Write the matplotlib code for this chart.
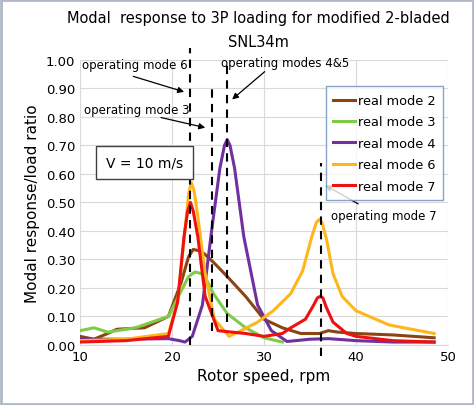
import matplotlib.pyplot as plt

rpm_m2 = [10, 11.5, 13, 14, 17, 19.6, 21, 21.8, 22.3, 23, 23.5, 24.5, 26, 28, 30, 32, 34, 36, 37, 38, 40, 44, 48.5]
mode2 = [0.03, 0.02, 0.04, 0.055, 0.06, 0.10, 0.22, 0.31, 0.335, 0.33, 0.32, 0.29, 0.24, 0.17, 0.09, 0.06, 0.04, 0.04, 0.05, 0.045, 0.04, 0.035, 0.025]
rpm_m3 = [10, 11.5, 13, 16, 19.6, 21, 21.8, 22.5, 23.2, 23.8, 24.5, 26, 28, 30, 32]
mode3 = [0.05, 0.06, 0.045, 0.06, 0.10, 0.19, 0.24, 0.256, 0.25, 0.225, 0.18, 0.11, 0.06, 0.025, 0.01]
rpm_m4 = [10, 15, 19.6, 20.8, 21.4, 22.2, 23.3, 24.3, 25.2, 25.7, 26, 26.3, 26.8, 27.8, 29.3, 30.8, 32.5, 35, 37, 40, 44, 48.5]
mode4 = [0.02, 0.02, 0.022, 0.015, 0.01, 0.03, 0.14, 0.40, 0.62, 0.70, 0.72, 0.70, 0.62, 0.38, 0.14, 0.05, 0.012, 0.02, 0.022, 0.015, 0.01, 0.01]
rpm_m6 = [10, 15, 19.6, 20.6, 21.4, 21.8, 22.1, 22.4, 22.8, 23.6, 24.6, 26.2, 27.5, 29.3, 31, 32.9, 34.2, 35.2, 35.7, 36, 36.3, 36.8, 37.5, 38.5, 40, 43.6, 48.5]
mode6 = [0.015, 0.02, 0.04, 0.15, 0.40, 0.53, 0.57, 0.54, 0.45, 0.25, 0.09, 0.03, 0.05, 0.08, 0.12, 0.18, 0.26, 0.38, 0.43, 0.44, 0.43, 0.37, 0.25, 0.17, 0.12, 0.07, 0.04]
rpm_m7 = [10, 15, 19.6, 20.6, 21.3, 21.7, 22, 22.3, 22.8, 23.6, 25, 26.5, 28, 30, 32, 32.9, 34.5, 35.4, 35.8, 36.1, 36.4, 36.8, 37.5, 39, 40, 44, 48.5]
mode7 = [0.01, 0.015, 0.03, 0.15, 0.38, 0.47, 0.50, 0.47, 0.38, 0.17, 0.05, 0.045, 0.04, 0.03, 0.04, 0.06, 0.09, 0.14, 0.165, 0.17, 0.165, 0.13, 0.08, 0.04, 0.03, 0.015, 0.01]

series = [("real mode 2", rpm_m2, mode2, "#8B4513"),
          ("real mode 3", rpm_m3, mode3, "#7DCB48"),
          ("real mode 4", rpm_m4, mode4, "#7030A0"),
          ("real mode 6", rpm_m6, mode6, "#FFB61A"),
          ("real mode 7", rpm_m7, mode7, "#EE1111")]

# dashed operating-mode markers: x, y bottom, y top
op_x = [22.0, 24.3, 26.0, 36.2]
op_ybot = [0.0, 0.05, 0.08, -0.04]
op_ytop = [1.04, 0.90, 1.00, 0.64]

fig = plt.figure(figsize=(4.74, 4.06), dpi=100)
fig.patch.set_facecolor("white")
ax = fig.add_axes([0.169, 0.148, 0.776, 0.702])

for name, xs, ys, c in series:
    ax.plot(xs, ys, color=c, lw=2.2, label=name)

for x, y0, y1 in zip(op_x, op_ybot, op_ytop):
    ax.plot([x, x], [y0, y1], color="black", ls=(0, (4, 3)), lw=1.5, clip_on=False)

ax.set_xlim(10, 50)
ax.set_ylim(0, 1.0)
ax.set_xticks([10, 20, 30, 40, 50])
ax.set_yticks([i / 10 for i in range(11)])
ax.set_yticklabels([f"{i/10:.2f}" for i in range(11)])
ax.grid(True, color="#d9d9d9", lw=0.8)
ax.tick_params(length=0, labelsize=9.5)
for s in ax.spines.values():
    s.set_visible(False)
ax.spines["bottom"].set_visible(True)
ax.spines["bottom"].set_color("#d9d9d9")

ax.set_xlabel("Rotor speed, rpm", fontsize=11)
ax.set_ylabel("Modal response/load ratio", fontsize=11)
fig.text(0.545, 0.955, "Modal  response to 3P loading for modified 2-bladed", ha="center", va="center", fontsize=10.5)
fig.text(0.545, 0.895, "SNL34m", ha="center", va="center", fontsize=10.5)

arr = dict(arrowstyle="-|>", color="black", lw=0.9, mutation_scale=9)
ax.text(10.2, 0.985, "operating mode 6", fontsize=8.5, va="center")
ax.annotate("", xy=(21.6, 0.885), xytext=(15.5, 0.945), arrowprops=arr)
ax.text(10.4, 0.825, "operating mode 3", fontsize=8.5, va="center")
ax.annotate("", xy=(23.9, 0.76), xytext=(18.5, 0.80), arrowprops=arr)
ax.text(25.3, 0.99, "operating modes 4&5", fontsize=8.5, va="center")
ax.annotate("", xy=(26.3, 0.855), xytext=(30.3, 0.965), arrowprops=arr)
ax.text(37.3, 0.455, "operating mode 7", fontsize=8.5, va="center")
ax.annotate("", xy=(36.4, 0.565), xytext=(40.5, 0.49), arrowprops=arr, annotation_clip=False)

ax.text(12.8, 0.64, "V = 10 m/s", fontsize=10, va="center",
        bbox=dict(boxstyle="square,pad=0.7", fc="white", ec="#404040", lw=1))

leg = ax.legend(loc="upper right", bbox_to_anchor=(1.005, 0.93), fontsize=9.3, frameon=True,
                fancybox=False, handlelength=1.7, handletextpad=0.2, borderpad=0.6, labelspacing=0.65)
leg.get_frame().set_edgecolor("#6C8EBF")
leg.get_frame().set_linewidth(1.0)

fig.patches.append(plt.Rectangle((0.003, 0.003), 0.994, 0.994, transform=fig.transFigure,
                                 fill=False, ec="#b0b8c8", lw=2))
fig.savefig("out.png", dpi=100)
